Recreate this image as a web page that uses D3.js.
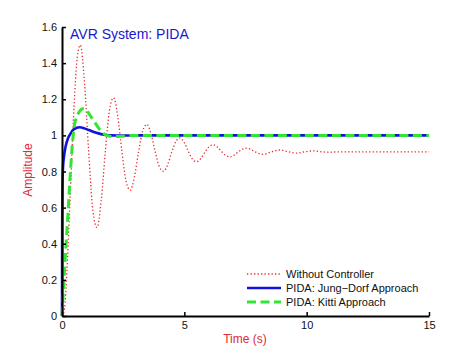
<!DOCTYPE html>
<html>
<head>
<meta charset="utf-8">
<script src="https://cdn.jsdelivr.net/npm/d3@7"></script>
<style>
  html, body { margin: 0; padding: 0; background: #fff; }
  svg { display: block; font-family: "Liberation Sans", Arial, Helvetica, sans-serif; }
</style>
</head>
<body>
<svg id="chart" width="474" height="355"></svg>
<script>
// ---- data ----
const noCtrlT = [0,0.05,0.1,0.15,0.2,0.25,0.3,0.4,0.5,0.6,0.7,0.75,0.92,1.09,1.26,1.43,1.60,1.77,1.94,2.11,2.28,2.45,2.62,2.79,2.96,3.13,3.30,3.47,3.64,3.81,3.98,4.15,4.32,4.49,4.66,4.83,5.00,5.17,5.34,5.51,5.68,5.85,6.02,6.19,6.36,6.53,6.70,6.87,7.04,7.21,7.38,7.55,7.72,7.89,8.23,8.57,8.91,9.25,9.59,9.93,10.27,10.61,10.95,11.3,12,13,14,15];
const noCtrlY = [0,0.01,0.04,0.12,0.25,0.39,0.55,0.88,1.18,1.40,1.49,1.50,1.29,0.91,0.585,0.49,0.636,0.909,1.139,1.208,1.103,0.909,0.745,0.696,0.771,0.909,1.026,1.061,1.007,0.909,0.826,0.801,0.839,0.909,0.968,0.986,0.959,0.909,0.867,0.854,0.874,0.909,0.939,0.948,0.934,0.909,0.888,0.881,0.891,0.909,0.924,0.929,0.922,0.909,0.895,0.909,0.919,0.909,0.902,0.909,0.914,0.909,0.907,0.909,0.909,0.909,0.909,0.909];

const jungDorfT = [0,0.005,0.01,0.02,0.04,0.08,0.15,0.25,0.35,0.45,0.6,0.72,0.9,1.05,1.2,1.4,1.6,1.8,2.0,2.5,3,15];
const jungDorfY = [0,0.3,0.55,0.72,0.82,0.88,0.94,0.985,1.01,1.03,1.042,1.045,1.04,1.032,1.024,1.014,1.007,1.002,1.0,0.999,1.0,1.0];

const kittiT = [0,0.04,0.1,0.15,0.2,0.25,0.3,0.35,0.4,0.45,0.5,0.6,0.7,0.85,0.95,1.1,1.3,1.5,1.7,1.9,2.1,2.4,2.8,3.2,15];
const kittiY = [0,0.1,0.24,0.36,0.47,0.58,0.7,0.81,0.91,0.99,1.05,1.10,1.13,1.148,1.145,1.12,1.08,1.04,1.01,0.997,0.993,0.995,0.999,1.0,1.0];

const xTicks = [0, 5, 10, 15];
const xTickLabels = ["0", "5", "10", "15"];
const yTicks = [0, 0.2, 0.4, 0.6, 0.8, 1, 1.2, 1.4, 1.6];
const yTickLabels = ["0", "0.2", "0.4", "0.6", "0.8", "1", "1.2", "1.4", "1.6"];

const seriesNames = ["Without Controller", "PIDA: Jung\u2212Dorf Approach", "PIDA: Kitti Approach"];
const titleText = "AVR System: PIDA";
const xLabel = "Time (s)";
const yLabel = "Amplitude";

// ---- drawing ----
const svg = d3.select("#chart");
const x = d3.scaleLinear().domain([0, 15]).range([62, 429]);
const y = d3.scaleLinear().domain([0, 1.6]).range([316, 27]);

const styles = [
  { color: "#ea2a2a", width: 1.3, dash: "1.3,2.2" },
  { color: "#1212dd", width: 2.6, dash: null },
  { color: "#33e533", width: 3, dash: "9,4.5" }
];
const series = [
  d3.zip(noCtrlT, noCtrlY),
  d3.zip(jungDorfT, jungDorfY),
  d3.zip(kittiT, kittiY)
];

const line = d3.line().x(d => x(d[0])).y(d => y(d[1])).curve(d3.curveMonotoneX);

series.forEach((s, i) => {
  svg.append("path")
    .attr("d", line(s))
    .attr("fill", "none")
    .attr("stroke", styles[i].color)
    .attr("stroke-width", styles[i].width)
    .attr("stroke-dasharray", styles[i].dash)
    .attr("stroke-linejoin", "round");
});

// axes
const xAxis = d3.axisBottom(x).tickValues(xTicks)
  .tickFormat((d, i) => xTickLabels[i]).tickSizeInner(-4).tickSizeOuter(0).tickPadding(5);
const yAxis = d3.axisLeft(y).tickValues(yTicks)
  .tickFormat((d, i) => yTickLabels[i]).tickSizeInner(-4).tickSizeOuter(0).tickPadding(5);

const gx = svg.append("g").attr("transform", `translate(0,${y(0)})`).call(xAxis);
const gy = svg.append("g").attr("transform", `translate(${x(0)},0)`).call(yAxis);
[gx, gy].forEach(g => {
  g.select(".domain").attr("stroke", "#000").attr("stroke-width", 2);
  g.selectAll(".tick line").attr("stroke", "#000").attr("stroke-width", 1.5);
  g.selectAll(".tick text").attr("fill", "#111").style("font-size", "11px")
    .style("font-family", "'Liberation Sans', Arial, sans-serif");
});

// title
svg.append("text").attr("x", 70).attr("y", 39)
  .attr("fill", "#1818d0").style("font-size", "14px").text(titleText);

// axis labels
svg.append("text").attr("x", 245).attr("y", 343).attr("text-anchor", "middle")
  .attr("fill", "#e0283a").style("font-size", "12px").text(xLabel);
svg.append("text").attr("transform", "translate(32,170) rotate(-90)").attr("text-anchor", "middle")
  .attr("fill", "#e0283a").style("font-size", "12px").text(yLabel);

// legend
const legendY = [274, 288, 302];
seriesNames.forEach((name, i) => {
  svg.append("line").attr("x1", 247).attr("x2", 281)
    .attr("y1", legendY[i]).attr("y2", legendY[i])
    .attr("stroke", styles[i].color).attr("stroke-width", styles[i].width)
    .attr("stroke-dasharray", styles[i].dash);
  svg.append("text").attr("x", 286).attr("y", legendY[i] + 4)
    .attr("fill", "#111").style("font-size", "11px").text(name);
});
</script>
</body>
</html>
